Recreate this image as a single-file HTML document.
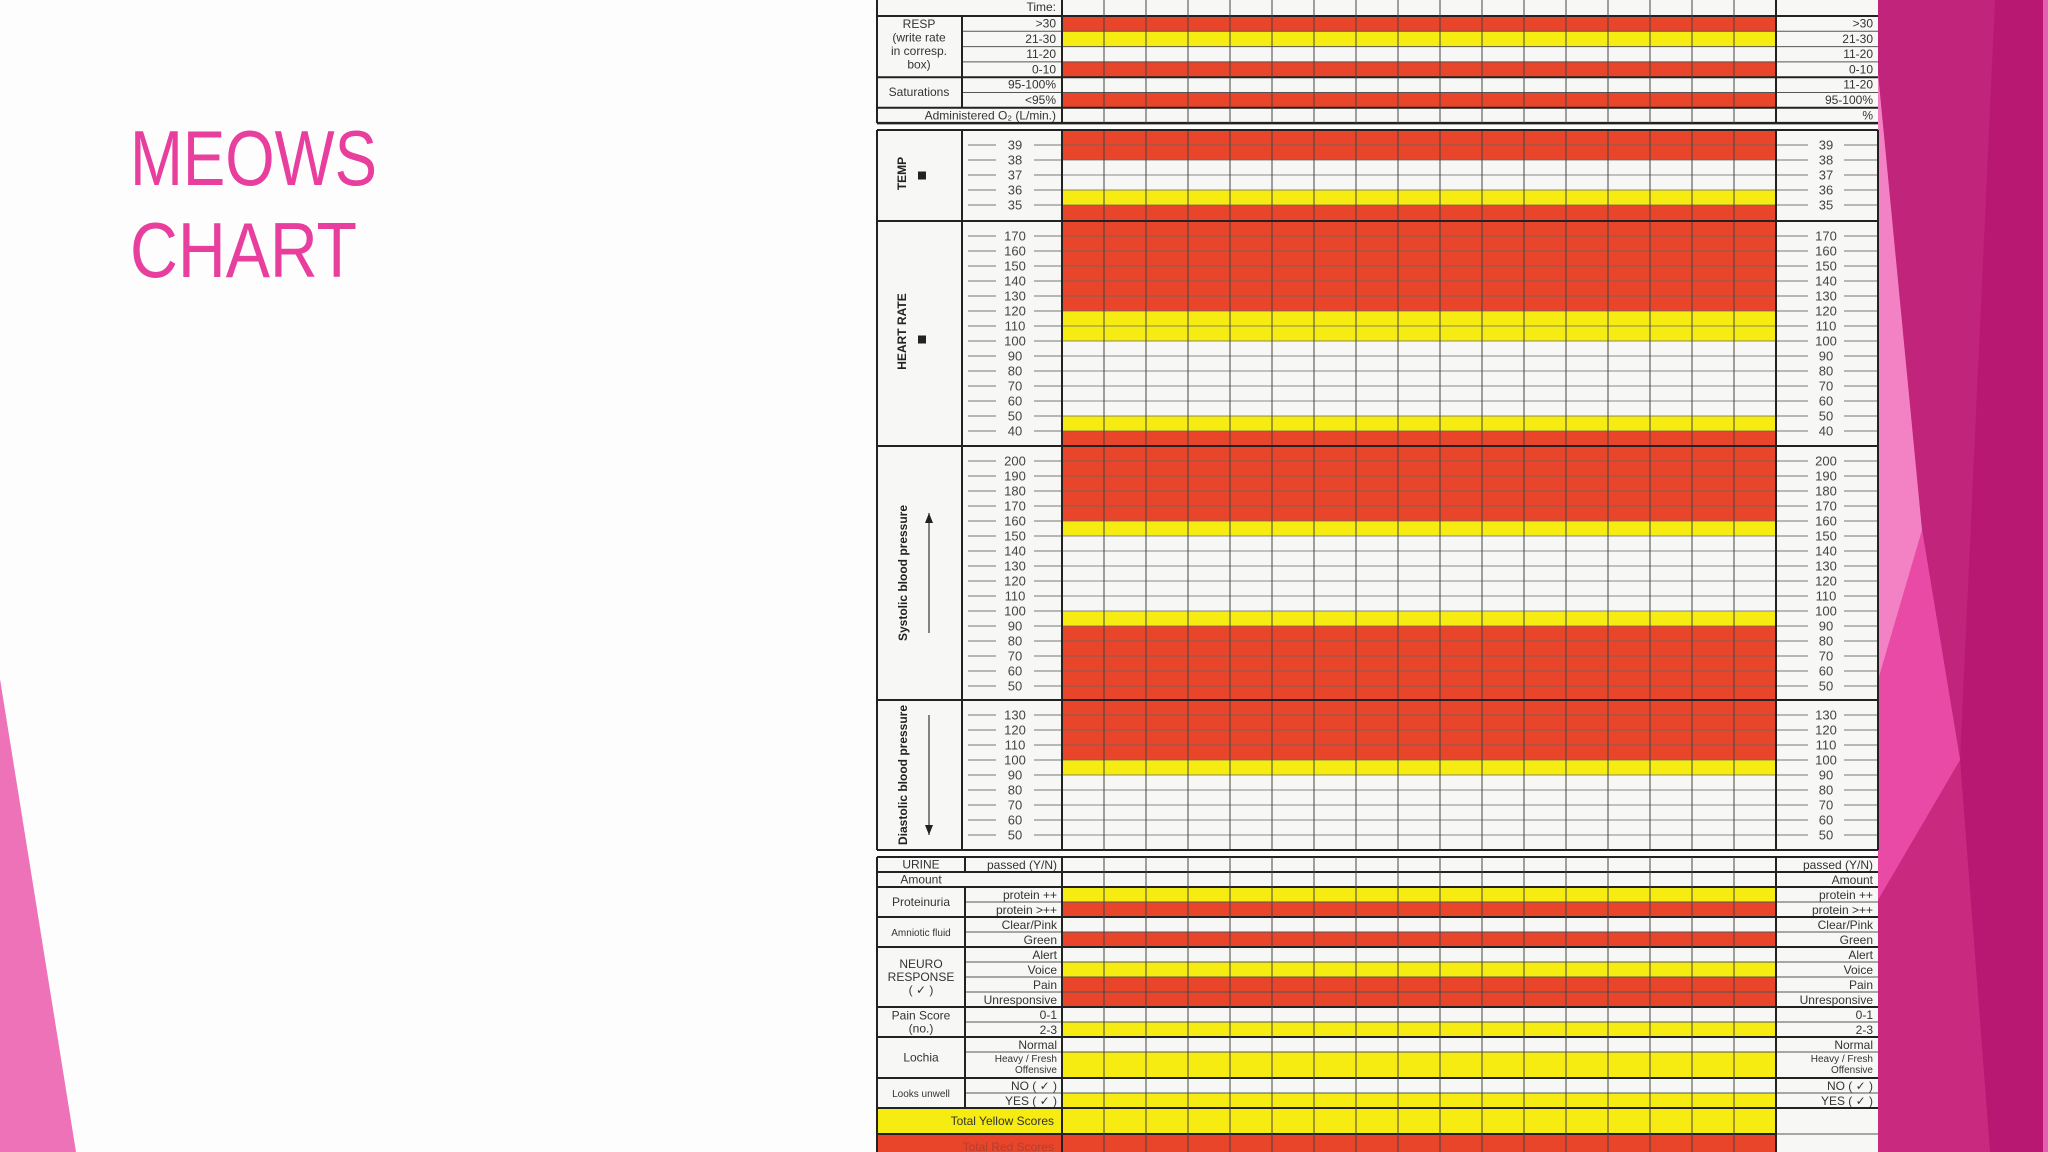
<!DOCTYPE html>
<html><head><meta charset="utf-8"><style>
html,body{margin:0;padding:0;background:#fdfdfd;}
svg{display:block;font-family:"Liberation Sans",sans-serif;}
</style></head><body>
<svg id="s" width="2048" height="1152" viewBox="0 0 2048 1152">
<rect x="0" y="0" width="2048" height="1152" fill="#fdfdfd"/>
<polygon points="0,679 76,1152 0,1152" fill="#ee72b8"/>
<g>
<rect x="1878" y="0" width="170" height="1152" fill="#c1247b"/>
<polygon points="1995,0 2048,0 2048,1152 1990,1152 1960,760" fill="#b91872"/>
<polygon points="1878,73 1922,530 1960,760 1878,900" fill="#f282c4"/>
<polygon points="1878,680 1922,530 1960,760 1878,900" fill="#e84aa5"/>
<polygon points="1878,900 1960,760 1990,1152 1878,1152" fill="#c92a80"/>
<rect x="2043" y="0" width="5" height="1152" fill="#e262b2"/>
</g>
<text x="130" y="185" font-size="78" fill="#e83e9e" textLength="247" lengthAdjust="spacingAndGlyphs">MEOWS</text>
<text x="130" y="277" font-size="78" fill="#e83e9e" textLength="227" lengthAdjust="spacingAndGlyphs">CHART</text>
<g id="chart"></g>
</svg>
<script>
// ---- data ----
const RED="#e8452b", YEL="#f6ec12", WHT="#f7f7f5";
const colCount = 17;
const topLabels = [">30","21-30","11-20","0-10","95-100%","<95%"];
const topColors = [RED,YEL,WHT,RED,WHT,RED,WHT];
const topRightLabels = [">30","21-30","11-20","0-10","11-20","95-100%","%"];
const tempTicks = [39,38,37,36,35];
const tempBands = [[99,38,RED],[38,36,WHT],[36,35,YEL],[35,0,RED]];
const hrTicks = [170,160,150,140,130,120,110,100,90,80,70,60,50,40];
const hrBands = [[999,120,RED],[120,100,YEL],[100,50,WHT],[50,40,YEL],[40,0,RED]];
const sysTicks = [200,190,180,170,160,150,140,130,120,110,100,90,80,70,60,50];
const sysBands = [[999,160,RED],[160,150,YEL],[150,100,WHT],[100,90,YEL],[90,0,RED]];
const diaTicks = [130,120,110,100,90,80,70,60,50];
const diaBands = [[999,100,RED],[100,90,YEL],[90,0,WHT]];
const botLabels = ["passed (Y/N)","Amount","protein ++","protein >++","Clear/Pink","Green","Alert","Voice","Pain","Unresponsive","0-1","2-3","Normal","Heavy / Fresh|Offensive","NO ( ✓ )","YES ( ✓ )","Total Yellow Scores","Total Red Scores"];
const botColors = [WHT,WHT,YEL,RED,WHT,RED,WHT,YEL,RED,RED,WHT,YEL,WHT,YEL,WHT,YEL,YEL,RED];
const botHeights = [15,15,15,15,15,15,15,15,15,15,15,15,15,26,15,15,26,19];
const botGroups = [["URINE",0,1],["Amount",1,1],["Proteinuria",2,2],["Amniotic fluid",4,2],["NEURO|RESPONSE|( ✓ )",6,4],["Pain Score|(no.)",10,2],["Lochia",12,2],["Looks unwell",14,2]];

// ---- layout ----
const X0=877, XL=962, XV=1062, CW=42, XG=XV+CW*colCount, XR=1878;
const g=document.getElementById('chart');
const NS="http://www.w3.org/2000/svg";
function el(t,a,parent){const e=document.createElementNS(NS,t);for(const k in a)e.setAttribute(k,a[k]);(parent||g).appendChild(e);return e;}
function txt(x,y,s,anchor,size,parent,fill){const e=el('text',{x:x,y:y,'font-size':size||12,'text-anchor':anchor||'end',fill:fill||'#333'},parent);e.textContent=s;return e;}
function vlines(y1,y2,parent){for(let i=0;i<=colCount;i++){el('line',{x1:XV+i*CW,y1:y1,x2:XV+i*CW,y2:y2,stroke:'#444','stroke-width':1},parent);}}

// top block
(function(){
  const gr=el('g',{});
  
  
  el('rect',{x:X0,y:0,width:XR-X0,height:16,fill:WHT},gr);
  txt(XV-6,11,"Time:",'end',12,gr);
  const y0=16,h=15.3;
  topColors.forEach((c,i)=>{
    const r=el('rect',{x:XV,y:y0+i*h,width:XG-XV,height:h,fill:c},gr);
    
    
    el('rect',{x:X0,y:y0+i*h,width:XV-X0,height:h,fill:WHT},gr);
    el('rect',{x:XG,y:y0+i*h,width:XR-XG,height:h,fill:WHT},gr);
    el('line',{x1:i<6?XL:X0,y1:y0+i*h,x2:XR,y2:y0+i*h,stroke:'#555','stroke-width':1},gr);
    txt(XR-5,y0+i*h+11.5,topRightLabels[i],'end',12,gr);
    if(i<6) txt(XV-6,y0+i*h+11.5,topLabels[i],'end',12,gr);
  });
  txt(XV-6,y0+6*h+11.5,"Administered O₂ (L/min.)",'end',12,gr);
  const yb=y0+7*h;
  el('line',{x1:X0,y1:16,x2:XR,y2:16,stroke:'#222','stroke-width':2},gr);
  el('line',{x1:X0,y1:y0+4*h,x2:XR,y2:y0+4*h,stroke:'#222','stroke-width':2},gr);
  el('line',{x1:X0,y1:y0+6*h,x2:XR,y2:y0+6*h,stroke:'#222','stroke-width':2},gr);
  el('line',{x1:X0,y1:yb,x2:XR,y2:yb,stroke:'#222','stroke-width':2.5},gr);
  vlines(0,yb,gr);
  [X0,XV,XG].forEach(x=>el('line',{x1:x,y1:0,x2:x,y2:yb,stroke:'#222','stroke-width':2},gr));
  el('line',{x1:XL,y1:16,x2:XL,y2:y0+6*h,stroke:'#222','stroke-width':2},gr);
  ["RESP","(write rate","in corresp.","box)"].forEach((s,i)=>txt(919,28+i*13.5,s,'middle',12,gr));
  txt(919,96,"Saturations",'middle',12,gr);
})();

// vital sign blocks
function vitalBlock(name,top,bottom,ticks,bands,yFirst,label,arrow){
  const gr=el('g',{});
  
  
  const step=ticks[0]-ticks[1];
  const y=v=>yFirst+(ticks[0]-v)/step*15;
  el('rect',{x:X0,y:top,width:XR-X0,height:bottom-top,fill:WHT},gr);
  bands.forEach(b=>{
    const ya=Math.max(top,Math.min(bottom,y(b[0]))), yb=Math.max(top,Math.min(bottom,y(b[1])));
    const r=el('rect',{x:XV,y:ya,width:XG-XV,height:yb-ya,fill:b[2]},gr);
    
    
  });
  ticks.forEach(t=>{
    const yy=y(t);
    el('line',{x1:XV,y1:yy,x2:XG,y2:yy,stroke:'#666','stroke-width':0.8},gr);
    el('line',{x1:XL+6,y1:yy,x2:XL+34,y2:yy,stroke:'#777','stroke-width':1},gr);
    el('line',{x1:XL+72,y1:yy,x2:XV,y2:yy,stroke:'#777','stroke-width':1},gr);
    el('line',{x1:XG,y1:yy,x2:XG+32,y2:yy,stroke:'#777','stroke-width':1},gr);
    el('line',{x1:XG+68,y1:yy,x2:XR,y2:yy,stroke:'#777','stroke-width':1},gr);
    const a=txt(XL+53,yy+4.5,String(t),'middle',13,gr,'#444');
    
    
    txt(XG+50,yy+4.5,String(t),'middle',13,gr,'#444');
  });
  vlines(top,bottom,gr);
  [X0,XL,XV,XG,XR].forEach(x=>el('line',{x1:x,y1:top,x2:x,y2:bottom,stroke:'#222','stroke-width':2},gr));
  el('line',{x1:X0,y1:top,x2:XR,y2:top,stroke:'#222','stroke-width':2},gr);
  el('line',{x1:X0,y1:bottom,x2:XR,y2:bottom,stroke:'#222','stroke-width':2},gr);
  const cy=(top+bottom)/2;
  const lt=txt(0,0,label,'middle',12,gr,'#222');
  lt.setAttribute('font-weight','bold');
  lt.setAttribute('transform','translate('+(arrow?907:906)+','+(arrow?cy:cy-2)+') rotate(-90)');
  if(arrow){
    const ax=929, up=arrow==='up';
    el('line',{x1:ax,y1:cy-60,x2:ax,y2:cy+60,stroke:'#333','stroke-width':1.2},gr);
    const ty=up?cy-60:cy+60, d=up?1:-1;
    el('polygon',{points:(ax-4)+','+(ty+10*d)+' '+(ax+4)+','+(ty+10*d)+' '+ax+','+ty,fill:'#222'},gr);
  }else{
    el('rect',{x:918,y:cy-(name==='heart-rate-block'?-2:4),width:8,height:8,fill:'#222'},gr);
  }
}
vitalBlock('temperature-block',130,221,tempTicks,tempBands,145,'TEMP',null);
vitalBlock('heart-rate-block',221,446,hrTicks,hrBands,236,'HEART RATE',null);
vitalBlock('systolic-bp-block',446,700,sysTicks,sysBands,461,'Systolic blood pressure','up');
vitalBlock('diastolic-bp-block',700,850,diaTicks,diaBands,715,'Diastolic blood pressure','down');

// bottom block
(function(){
  const gr=el('g',{});
  
  
  const XLb=965;
  let y=857; const ys=[];
  botColors.forEach((c,i)=>{
    const h=botHeights[i]; ys.push(y);
    const isTotal=i>=16;
    el('rect',{x:X0,y:y,width:XR-X0,height:h,fill:WHT},gr);
    const r=el('rect',{x:isTotal?X0:XV,y:y,width:(isTotal?XG-X0:XG-XV),height:h,fill:c},gr);
    
    
    el('line',{x1:isTotal?X0:XLb,y1:y,x2:XR,y2:y,stroke:'#555','stroke-width':1},gr);
    const parts=botLabels[i].split('|');
    if(isTotal){
      txt(XV-8,y+17,botLabels[i],'end',12,gr,i===16?'#333':'#b04030');
    }else if(parts.length>1){
      txt(XV-5,y+10,parts[0],'end',10,gr); txt(XV-5,y+21,parts[1],'end',10,gr);
      txt(XR-5,y+10,parts[0],'end',10,gr); txt(XR-5,y+21,parts[1],'end',10,gr);
    }else{
      if(i!==1) txt(XV-5,y+12,botLabels[i],'end',12,gr);
      txt(XR-5,y+12,botLabels[i],'end',12,gr);
    }
    y+=h;
  });
  const yEnd=ys[16];
  botGroups.forEach(gp=>{
    const y1=ys[gp[1]], y2=ys[gp[1]]+botHeights.slice(gp[1],gp[1]+gp[2]).reduce((a,b)=>a+b,0);
    const lines=gp[0].split('|'); const cy=(y1+y2)/2;
    const fs=gp[0]==='Amniotic fluid'||gp[0]==='Looks unwell'?10:12;
    lines.forEach((s,k)=>txt(gp[1]===1?921:(X0+XLb)/2,cy+4+(k-(lines.length-1)/2)*13,s,'middle',fs,gr));
    el('line',{x1:X0,y1:y1,x2:gp[1]===1?X0:XLb,y2:y1,stroke:'#222','stroke-width':2},gr);
    el('line',{x1:X0,y1:y2,x2:XR,y2:y2,stroke:'#222','stroke-width':2},gr);
  });
  el('line',{x1:X0,y1:857,x2:XR,y2:857,stroke:'#222','stroke-width':2},gr);
  el('line',{x1:X0,y1:ys[17],x2:XG,y2:ys[17],stroke:'#222','stroke-width':2},gr);
  vlines(857,1152,gr);
  [X0,XV,XG].forEach(x=>el('line',{x1:x,y1:857,x2:x,y2:1152,stroke:'#222','stroke-width':2},gr));
  el('line',{x1:XLb,y1:857,x2:XLb,y2:872,stroke:'#222','stroke-width':2},gr);
  el('line',{x1:XLb,y1:887,x2:XLb,y2:yEnd,stroke:'#222','stroke-width':2},gr);
})();
</script>
</body></html>
